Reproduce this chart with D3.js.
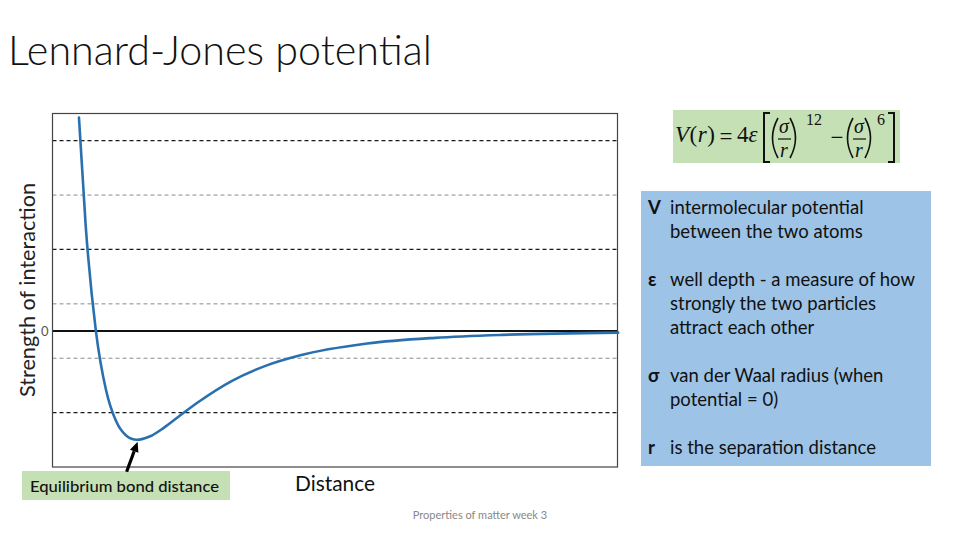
<!DOCTYPE html>
<html>
<head>
<meta charset="utf-8">
<script src="https://cdn.jsdelivr.net/npm/d3@7"></script>
<style>
  html, body { margin: 0; padding: 0; background: #fff; }
  svg { display: block; font-family: Lato, "Open Sans", "Liberation Sans", sans-serif; }
</style>
</head>
<body>
<svg id="chart" width="960" height="540"></svg>
<script>
// ---- data ----
const distance = [0.95, 0.97, 1.00, 1.03, 1.06, 1.09, 1.12, 1.16, 1.20, 1.25, 1.30, 1.40, 1.50, 1.60, 1.80, 2.00, 2.20, 2.54];
const strength = [7.85, 3.85, 0.00, -2.18, -3.33, -3.85, -4.00, -3.87, -3.56, -3.09, -2.63, -1.84, -1.28, -0.90, -0.46, -0.25, -0.14, -0.06];
const gridValues = [7, 5, 3, 1, -1, -3];
const gridStrong = [true, false, true, false, false, true];
const zeroTick = ["0"];
const legendSymbols = ["V", "ε", "σ", "r"];
const legendLines = [
  ["intermolecular potential", "between the two atoms"],
  ["well depth - a measure of how", "strongly the two particles", "attract each other"],
  ["van der Waal radius (when", "potential = 0)"],
  ["is the separation distance"]
];

const svg = d3.select("#chart");
const plot = { left: 52.5, top: 113.5, right: 617.5, bottom: 467 };

const x = d3.scaleLinear().domain([0.872, 2.538]).range([plot.left, plot.right]);
const y = d3.scaleLinear().domain([-5, 8]).range([plot.bottom, plot.top]);

// Title
svg.append("text").attr("x", 8).attr("y", 65)
  .attr("font-size", 41).attr("font-weight", 300).attr("fill", "#111")
  .attr("textLength", 424).attr("lengthAdjust", "spacingAndGlyphs")
  .text("Lennard-Jones potential");

// Grid lines
const data = distance.map((d, i) => ({ d, v: strength[i] }));
svg.append("g").selectAll("line").data(gridValues).join("line")
  .attr("x1", plot.left).attr("x2", plot.right)
  .attr("y1", d => y(d)).attr("y2", d => y(d))
  .attr("stroke", (d, i) => gridStrong[i] ? "#1a1a1a" : "#8a8a8a")
  .attr("stroke-width", (d, i) => gridStrong[i] ? 1.2 : 1)
  .attr("stroke-dasharray", "4,3");

// Zero line (axis)
const yAxis = d3.axisLeft(y).tickValues([0]).tickFormat((d, i) => zeroTick[i]).tickSize(0).tickPadding(4);
const ax = svg.append("g").attr("transform", `translate(${plot.left},0)`).call(yAxis);
ax.select(".domain").remove();
ax.selectAll("text").style("font-size", "13px").style("fill", "#555").style("font-family", "Lato, sans-serif");
svg.append("line").attr("x1", plot.left).attr("x2", plot.right)
  .attr("y1", y(0)).attr("y2", y(0)).attr("stroke", "#111").attr("stroke-width", 2);

// Frame
svg.append("rect").attr("x", plot.left).attr("y", plot.top)
  .attr("width", plot.right - plot.left).attr("height", plot.bottom - plot.top)
  .attr("fill", "none").attr("stroke", "#444").attr("stroke-width", 1.2);

// Curve
const line = d3.line().x(d => x(d.d)).y(d => y(d.v)).curve(d3.curveMonotoneX);
svg.append("path").datum(data).attr("d", line)
  .attr("fill", "none").attr("stroke", "#2a70ae").attr("stroke-width", 2.6)
  .attr("stroke-linejoin", "round").attr("stroke-linecap", "round");

// Axis titles
svg.append("text").attr("transform", "translate(35,290) rotate(-90)")
  .attr("text-anchor", "middle").attr("font-size", 21).attr("fill", "#222")
  .attr("textLength", 214).attr("lengthAdjust", "spacingAndGlyphs")
  .text("Strength of interaction");
svg.append("text").attr("x", 295).attr("y", 491)
  .attr("font-size", 21).attr("fill", "#111")
  .attr("textLength", 80).attr("lengthAdjust", "spacingAndGlyphs")
  .text("Distance");

// Equilibrium annotation
svg.append("rect").attr("x", 22).attr("y", 471).attr("width", 208).attr("height", 29).attr("fill", "#c5e0b4");
svg.append("text").attr("x", 30).attr("y", 492)
  .attr("font-size", 15).attr("font-weight", 500).attr("fill", "#111")
  .attr("textLength", 189).attr("lengthAdjust", "spacingAndGlyphs")
  .text("Equilibrium bond distance");
const minIdx = d3.minIndex(strength);
const tip = [x(distance[minIdx]) + 1, y(strength[minIdx]) + 2];
const tail = [tip[0] - 11, tip[1] + 30];
const len = Math.hypot(tip[0] - tail[0], tip[1] - tail[1]);
const u = [(tip[0] - tail[0]) / len, (tip[1] - tail[1]) / len];
const pv = [-u[1], u[0]];
const base = [tip[0] - 10 * u[0], tip[1] - 10 * u[1]];
svg.append("line").attr("x1", tail[0]).attr("y1", tail[1]).attr("x2", base[0]).attr("y2", base[1])
  .attr("stroke", "#000").attr("stroke-width", 3.2);
svg.append("path").attr("d", `M${tip[0]},${tip[1]}L${base[0] + 4.5 * pv[0]},${base[1] + 4.5 * pv[1]}L${base[0] - 4.5 * pv[0]},${base[1] - 4.5 * pv[1]}Z`)
  .attr("fill", "#000");

// Formula box
const fg = svg.append("g").style("font-family", "'Liberation Serif', 'DejaVu Serif', serif");
fg.append("rect").attr("x", 673).attr("y", 110).attr("width", 227).attr("height", 53).attr("fill", "#c5e0b4");
const ft = (tx, ty, str, size, italic, anchor) => fg.append("text")
  .attr("x", tx).attr("y", ty).attr("font-size", size)
  .attr("font-style", italic ? "italic" : "normal").attr("fill", "#111")
  .attr("text-anchor", anchor || "start").text(str);
const vr = fg.append("text").attr("x", 675).attr("y", 142).attr("font-size", 23).attr("fill", "#111")
  .attr("textLength", 40).attr("lengthAdjust", "spacing");
vr.append("tspan").attr("font-style", "italic").text("V");
vr.append("tspan").text("(");
vr.append("tspan").attr("font-style", "italic").text("r");
vr.append("tspan").text(")");
ft(726, 144, "=", 23, false, "middle");
const fe = fg.append("text").attr("x", 737).attr("y", 142).attr("font-size", 23).attr("fill", "#111");
fe.append("tspan").text("4");
fe.append("tspan").attr("font-style", "italic").text("ε");
// brackets
fg.append("path").attr("d", "M770,113H764V162H770").attr("fill", "none").attr("stroke", "#111").attr("stroke-width", 2);
fg.append("path").attr("d", "M888,113H894V162H888").attr("fill", "none").attr("stroke", "#111").attr("stroke-width", 2);
// fractions
[[784, "12", 806], [859, "6", 877]].forEach(([cx, ex, exX]) => {
  fg.append("path").attr("d", `M${cx - 6},118Q${cx - 17},138 ${cx - 6},158`).attr("fill", "none").attr("stroke", "#111").attr("stroke-width", 1.6);
  fg.append("path").attr("d", `M${cx + 6},118Q${cx + 17},138 ${cx + 6},158`).attr("fill", "none").attr("stroke", "#111").attr("stroke-width", 1.6);
  ft(cx, 133, "σ", 20, true, "middle");
  fg.append("line").attr("x1", cx - 6).attr("x2", cx + 7).attr("y1", 139).attr("y2", 139).attr("stroke", "#111").attr("stroke-width", 1.2);
  ft(cx, 157, "r", 20, true, "middle");
  ft(exX, 125, ex, 16, false, "start");
});
ft(837, 145, "−", 23, false, "middle");

// Legend box
svg.append("rect").attr("x", 641).attr("y", 191).attr("width", 290).attr("height", 275).attr("fill", "#9dc3e6");
const groupStart = [214, 286, 382, 454];
legendSymbols.forEach((s, gi) => {
  svg.append("text").attr("x", 648).attr("y", groupStart[gi])
    .attr("font-size", 18.5).attr("font-weight", 700).attr("fill", "#111").text(s);
  legendLines[gi].forEach((t, li) => {
    svg.append("text").attr("x", 670).attr("y", groupStart[gi] + li * 24)
      .attr("font-size", 18.5).attr("fill", "#111").text(t);
  });
});

// Footer
svg.append("text").attr("x", 480).attr("y", 519).attr("text-anchor", "middle")
  .attr("font-size", 11).attr("fill", "#888").text("Properties of matter week 3");
</script>
</body>
</html>
